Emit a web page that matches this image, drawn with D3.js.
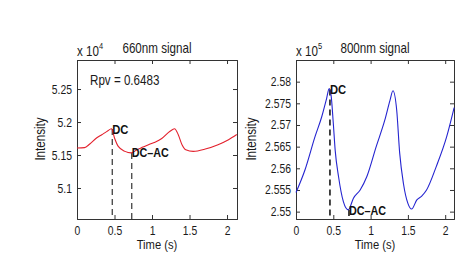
<!DOCTYPE html>
<html>
<head>
<meta charset="utf-8">
<title>660nm / 800nm signal</title>
<style>
body { margin: 0; background: #fff; }
svg { display: block; }
svg text { font-family: "Liberation Sans", Arial, sans-serif; }
</style>
</head>
<body>
<div id="chart"></div>
<script src="https://d3js.org/d3.v7.min.js"></script>
<script>
// data (time in s, intensity in units of the exponent)
const t660 = [0, 0.1, 0.17, 0.26, 0.33, 0.4, 0.46, 0.5, 0.55, 0.64, 0.72, 0.8, 0.88, 0.96, 1.04, 1.13, 1.24, 1.3, 1.35, 1.4, 1.45, 1.55, 1.71, 1.88, 2.02, 2.13]
const v660 = [5.1606, 5.1612, 5.1667, 5.1758, 5.1808, 5.1858, 5.1898, 5.1758, 5.163, 5.1555, 5.1532, 5.158, 5.162, 5.166, 5.1695, 5.175, 5.186, 5.1898, 5.1808, 5.1656, 5.158, 5.1555, 5.159, 5.1656, 5.1732, 5.181]

const t800 = [0, 0.12, 0.255, 0.345, 0.41, 0.445, 0.47, 0.5, 0.525, 0.57, 0.635, 0.7, 0.77, 0.86, 0.95, 1.075, 1.19, 1.26, 1.3, 1.35, 1.39, 1.44, 1.5, 1.55, 1.62, 1.685, 1.75, 1.88, 2.02, 2.12]
const v800 = [2.5544, 2.5596, 2.5673, 2.5719, 2.5761, 2.5784, 2.5769, 2.5704, 2.5642, 2.5581, 2.5523, 2.5504, 2.5531, 2.555, 2.5581, 2.565, 2.5711, 2.5757, 2.5779, 2.5734, 2.5635, 2.5565, 2.5519, 2.5506, 2.5527, 2.5536, 2.555, 2.5604, 2.5673, 2.574]

const xTicks = [0, 0.5, 1, 1.5, 2]
const yTicks660 = [5.1, 5.15, 5.2, 5.25]
const yTicks800 = [2.55, 2.555, 2.56, 2.565, 2.57, 2.575, 2.58]

// annotation points [time, value]
const dc660 = [0.47, 5.1895], dcac660 = [0.73, 5.1532]
const dc800 = [0.455, 2.5782], dcac800 = [0.71, 2.5504]

const W = 474, H = 261
const SQ = 0.83   // the figure's font is narrow, squash text horizontally
const svg = d3.select("#chart").append("svg").attr("width", W).attr("height", H)

function panel(opt) {
    const x = d3.scaleLinear().domain(opt.xd).range([opt.left, opt.right])
    const y = d3.scaleLinear().domain(opt.yd).range([219, 60])
    const g = svg.append("g")

    // axes, ticks pointing inward on all four sides
    g.append("g").attr("transform", "translate(0,219)")
        .call(d3.axisBottom(x).tickValues(xTicks).tickSize(-4).tickPadding(7).tickFormat(d3.format("")))
    g.append("g").attr("transform", "translate(0,60)")
        .call(d3.axisTop(x).tickValues(xTicks).tickSize(-4).tickFormat(""))
    g.append("g").attr("transform", `translate(${opt.left},0)`)
        .call(d3.axisLeft(y).tickValues(opt.yt).tickSize(-4).tickPadding(5).tickFormat(d3.format("")))
    g.append("g").attr("transform", `translate(${opt.right},0)`)
        .call(d3.axisRight(y).tickValues(opt.yt).tickSize(-4).tickFormat(""))
    g.selectAll(".domain").attr("stroke", "#333").attr("stroke-width", 1)
    g.selectAll(".tick line").attr("stroke", "#333")
    g.selectAll(".tick text").attr("font-size", 12.5).attr("fill", "#1a1a1a").attr("font-family", null)

    // dashed guides
    const guides = [[opt.dc, opt.dw], [opt.dcac, opt.dw]]
    g.selectAll("line.guide").data(guides).enter().append("line")
        .attr("class", "guide")
        .attr("x1", d => x(d[0][0])).attr("x2", d => x(d[0][0]))
        .attr("y1", d => y(d[0][1])).attr("y2", 219)
        .attr("stroke", "#333").attr("stroke-width", d => d[1])
        .attr("stroke-dasharray", "6,4")

    // signal
    const pts = opt.t.map((t, i) => [t, opt.v[i]])
    g.append("path").datum(pts)
        .attr("fill", "none").attr("stroke", opt.color).attr("stroke-width", 1.1)
        .attr("d", d3.line().x(d => x(d[0])).y(d => y(d[1])).curve(d3.curveMonotoneX))

    // labels on the annotation points
    g.append("text").attr("x", x(opt.dc[0])).attr("y", y(opt.dc[1]) + 5)
        .attr("font-size", 13.5).attr("font-weight", "bold").attr("fill", "#111").text("DC")
    g.append("text").attr("x", x(opt.dcac[0])).attr("y", y(opt.dcac[1]) + opt.acdy)
        .attr("font-size", 13).attr("font-weight", "bold").attr("fill", "#111").text("DC\u2013AC")

    // exponent + title
    const ex = g.append("text").attr("x", opt.left).attr("y", 56)
        .attr("font-size", 14).attr("fill", "#1a1a1a").text("x 10")
    ex.append("tspan").attr("dy", -7).attr("font-size", 9).text(opt.exp)
    g.append("text").attr("x", (opt.left + opt.right) / 2).attr("y", 53)
        .attr("text-anchor", "middle").attr("font-size", 14).attr("fill", "#1a1a1a").text(opt.title)

    // axis labels
    g.append("text").attr("x", (opt.left + opt.right) / 2).attr("y", 249)
        .attr("text-anchor", "middle").attr("font-size", 13.5).attr("fill", "#1a1a1a").text("Time (s)")
    g.append("text").attr("class", "rot").attr("transform", `translate(${opt.ylx},139) rotate(-90)`)
        .attr("text-anchor", "middle").attr("dy", "0.35em")
        .attr("font-size", 14).attr("fill", "#1a1a1a").text("Intensity")
    return {x, y, g}
}

const p1 = panel({left: 77, right: 237, xd: [0, 2.133], yd: [5.053, 5.294], yt: yTicks660,
    t: t660, v: v660, color: "#e3202c", dc: dc660, dcac: dcac660, dw: 1.2, acdy: 4,
    exp: "4", title: "660nm signal", ylx: 40})
p1.g.append("text").attr("x", 90).attr("y", 85).attr("font-size", 14).attr("fill", "#1a1a1a").text("Rpv = 0.6483")

panel({left: 296, right: 454, xd: [0, 2.118], yd: [2.5483, 2.585], yt: yTicks800,
    t: t800, v: v800, color: "#2424d0", dc: dc800, dcac: dcac800, dw: 1.8, acdy: 5,
    exp: "5", title: "800nm signal", ylx: 251})

// squash every text around its own anchor
svg.selectAll("text").each(function() {
    const t = d3.select(this)
    if (t.classed("rot")) {
        t.attr("transform", t.attr("transform") + ` scale(${SQ},1)`)
    } else {
        const ax = +(t.attr("x") || 0)
        t.attr("transform", `translate(${ax * (1 - SQ)},0) scale(${SQ},1)`)
    }
})
</script>
</body>
</html>
